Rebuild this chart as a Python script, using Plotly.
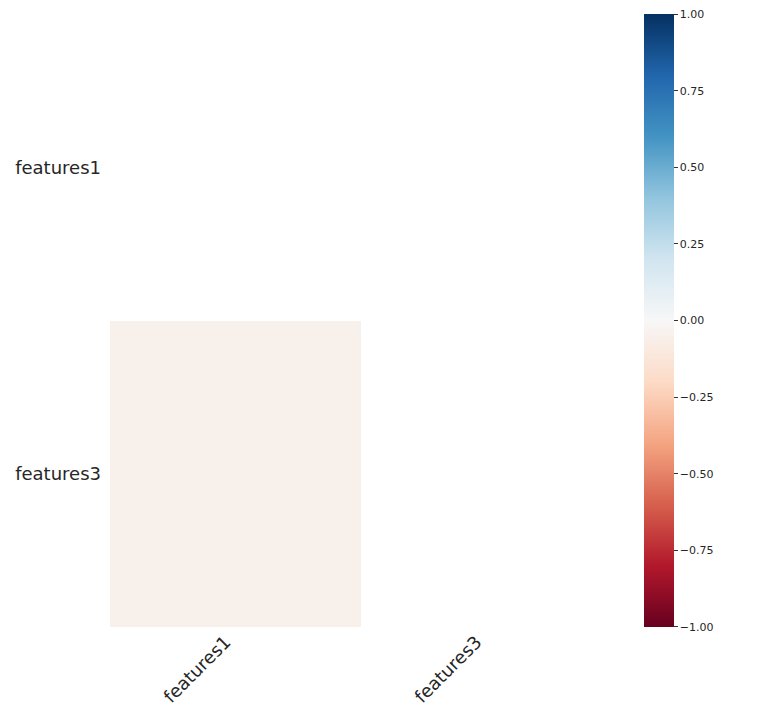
import plotly.graph_objects as go

labels = ["features1", "features3"]
# nullity correlation matrix (lower triangle only; others masked)
corr_values = [
    [None, None],
    [-0.05, None],
]
cbar_ticks = [-1.0, -0.75, -0.5, -0.25, 0.0, 0.25, 0.5, 0.75, 1.0]
cbar_ticktext = ["\u22121.00", "\u22120.75", "\u22120.50", "\u22120.25", "0.00", "0.25", "0.50", "0.75", "1.00"]

rdbu = [
    [0.0, "#67001f"], [0.1, "#b2182b"], [0.2, "#d6604d"], [0.3, "#f4a582"],
    [0.4, "#fddbc7"], [0.5, "#f7f7f7"], [0.6, "#d1e5f0"], [0.7, "#92c5de"],
    [0.8, "#4393c3"], [0.9, "#2166ac"], [1.0, "#053061"],
]

fig = go.Figure(go.Heatmap(
    z=corr_values,
    x=labels,
    y=labels,
    zmin=-1.0001, zmax=1.0001,
    colorscale=rdbu,
    hoverongaps=False,
    colorbar=dict(
        x=1.0637, xanchor="left", xpad=0,
        y=1, yanchor="top", len=1, lenmode="fraction", ypad=0,
        thickness=30, thicknessmode="pixels",
        outlinewidth=0,
        tickvals=cbar_ticks, ticktext=cbar_ticktext,
        ticks="outside", ticklen=4, tickcolor="#333",
        ticklabeloverflow="allow",
        tickfont=dict(family="DejaVu Sans", size=11, color="#262626"),
    ),
))

fig.update_layout(
    width=753, height=709,
    margin=dict(l=102, r=149, t=6, b=90),
    paper_bgcolor="white", plot_bgcolor="white",
    xaxis=dict(
        showgrid=False, zeroline=False, showline=False,
        tickangle=-45, ticks="", ticklabelshift=-10,
        tickfont=dict(family="DejaVu Sans", size=18, color="#262626"),
    ),
    yaxis=dict(
        showgrid=False, zeroline=False, showline=False,
        autorange="reversed", ticks="", ticklabelstandoff=8,
        tickfont=dict(family="DejaVu Sans", size=18, color="#262626"),
    ),
)

fig.write_html("out.html")
